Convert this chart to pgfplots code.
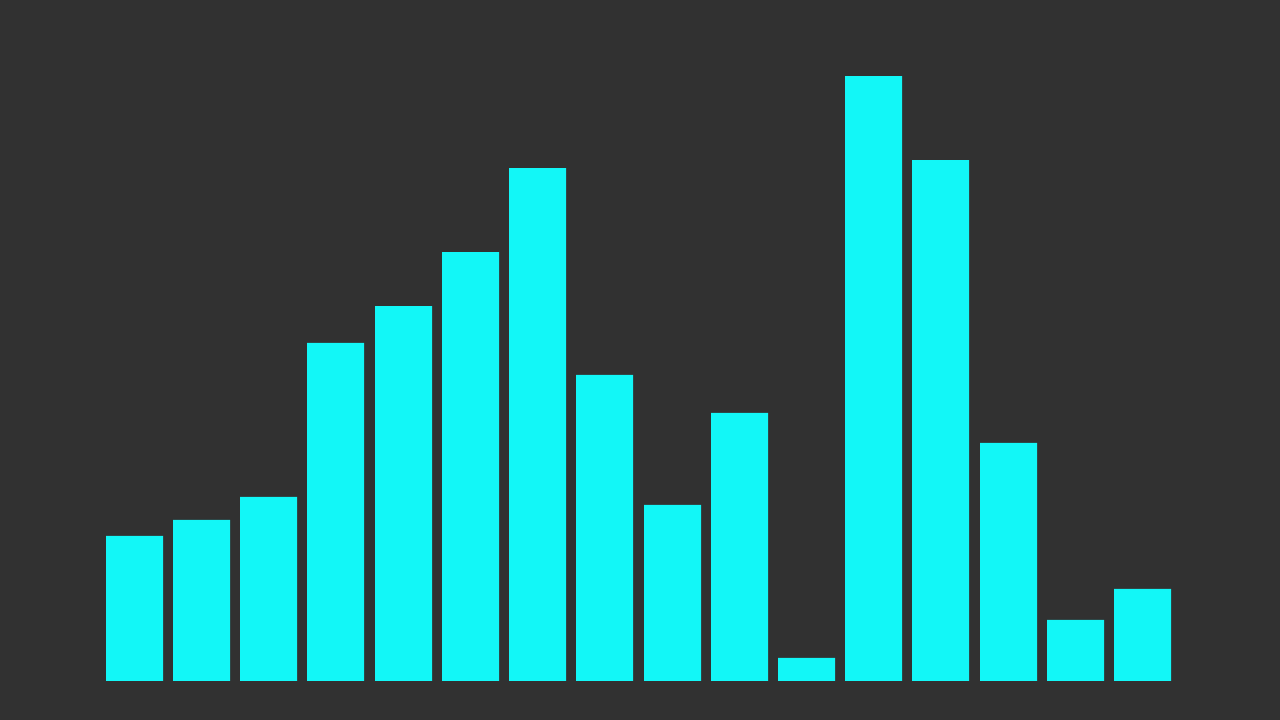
\documentclass[border=0pt]{standalone}
\usepackage{pgfplots}
\pgfplotsset{compat=1.18}
\definecolor{bg}{HTML}{313131}
\definecolor{barc}{HTML}{12F7F7}
\begin{document}
\begin{tikzpicture}
\begin{axis}[
  scale only axis,
  width=12.8cm, height=7.2cm,
  xmin=0, xmax=1280,
  ymin=-39, ymax=681,
  axis lines=none,
  ticks=none,
  axis background/.style={fill=bg},
  ybar, bar shift=0pt, bar width=57,
  clip=true,
]
\addplot[fill=barc, draw=none] coordinates {
(134.5,145) (201.5,161) (268.5,184) (335.5,338) (403.5,375) (470.5,429)
(537.5,513) (604.5,306) (672.5,176) (739.5,268) (806.5,23) (873.5,605)
(940.5,521) (1008.5,238) (1075.5,61) (1142.5,92)
};
\end{axis}
\end{tikzpicture}
\end{document}
